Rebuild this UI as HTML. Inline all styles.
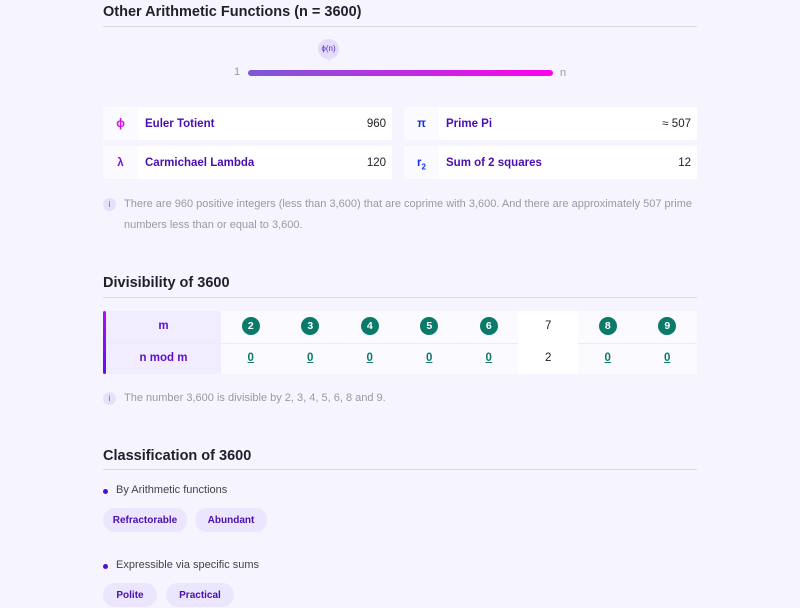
<!DOCTYPE html>
<html><head><style>
body{margin:0;width:800px;height:600px;overflow:hidden;background:#f6f4fe;font-family:"Liberation Sans",sans-serif;position:relative}
.a{position:absolute}
h2{position:absolute;left:103px;margin:0;font-size:14.5px;font-weight:bold;color:#1f1f2e}
.hr{position:absolute;left:103px;width:594px;height:1px;background:#dcd9e8}
.card{position:absolute;height:33px;background:#fff;font-size:11.5px;font-weight:bold;color:#4a0fb0}
.card .ic{position:absolute;left:0;top:0;width:35px;height:33px;background:#fbfaff;text-align:center;line-height:35px}
.card .lb{position:absolute;left:42px;top:0;line-height:35px}
.card .v{position:absolute;right:6px;top:0;line-height:35px;color:#222;font-weight:normal}
.info{position:absolute;left:103px;font-size:11px;color:#9a98a8;line-height:21px}
.info i{position:absolute;left:0;top:4px;width:13px;height:13px;border-radius:50%;background:#e6e0fb;color:#6a4ad0;font-style:normal;font-size:8px;text-align:center;line-height:13px}
.cell{position:absolute;width:59.5px;height:31px;text-align:center;line-height:31px;font-size:11.5px}
.c{display:inline-block;width:18px;height:18px;border-radius:50%;background:#0a7a6a;color:#fff;line-height:18px;font-size:10.5px;font-weight:bold;vertical-align:middle}
.u{color:#0a7a6a;text-decoration:underline;font-weight:bold}
.pill{position:absolute;height:24px;line-height:25px;border-radius:12px;background:#ebe6fd;color:#4a0fb0;font-size:10px;font-weight:bold;text-align:center}
.bul{position:absolute;left:103px;font-size:11px;color:#444}
.bul:before{content:"";position:absolute;left:0;top:5px;width:5px;height:5px;border-radius:50%;background:#5010d0}
</style></head><body>
<h2 style="top:4px">Other Arithmetic Functions (n = 3600)</h2>
<div class="hr" style="top:26px"></div>
<div class="a" style="left:318px;top:39px;width:21px;height:20px;border-radius:50%;background:#e3dcfa;font-size:8px;color:#5a2ad0;text-align:center;line-height:20px">ϕ(n)</div>
<div class="a" style="left:325px;top:56px;width:0;height:0;border-left:4px solid transparent;border-right:4px solid transparent;border-top:5px solid #e3dcfa"></div>
<div class="a" style="left:234px;top:66px;font-size:11px;color:#999">1</div>
<div class="a" style="left:248px;top:70px;width:305px;height:6px;border-radius:3px;background:linear-gradient(90deg,#7b5ad6,#ff00ee)"></div>
<div class="a" style="left:560px;top:67px;font-size:11px;color:#999">n</div>

<div class="card" style="left:103px;top:107px;width:289px"><div class="ic" style="color:#d010e0">ϕ</div><div class="lb">Euler Totient</div><div class="v">960</div></div>
<div class="card" style="left:404px;top:107px;width:293px"><div class="ic" style="color:#1a30e0">π</div><div class="lb">Prime Pi</div><div class="v">≈ 507</div></div>
<div class="card" style="left:103px;top:146px;width:289px"><div class="ic" style="color:#7a10e0">λ</div><div class="lb">Carmichael Lambda</div><div class="v">120</div></div>
<div class="card" style="left:404px;top:146px;width:293px"><div class="ic" style="color:#1a30e0">r<sub style="font-size:8px">2</sub></div><div class="lb">Sum of 2 squares</div><div class="v">12</div></div>

<div class="info" style="top:194px;width:594px"><i>i</i><div style="padding-left:21px">There are 960 positive integers (less than 3,600) that are coprime with 3,600. And there are approximately 507 prime numbers less than or equal to 3,600.</div></div>

<h2 style="top:275px">Divisibility of 3600</h2>
<div class="hr" style="top:297px"></div>
<div class="a" style="left:103px;top:311px;width:594px;height:63px;background:#fbfaff"></div>
<div class="a" style="left:103px;top:311px;width:3px;height:63px;background:linear-gradient(#b010f0,#6010f0);border-radius:2px"></div>
<div class="a" style="left:106px;top:311px;width:115px;height:63px;background:#f1edfe"></div>
<div class="a" style="left:106px;top:343px;width:591px;height:1px;background:#eeebf7"></div>
<div class="cell" style="left:106px;top:311px;width:115px;color:#6010d0;font-weight:bold">m</div>
<div class="cell" style="left:106px;top:343px;width:115px;color:#6010d0;font-weight:bold">n mod m</div>
<div class="a" style="left:518px;top:311px;width:60px;height:63px;background:#fff"></div>
<div class="cell" style="left:221px;top:311px"><span class="c">2</span></div>
<div class="cell" style="left:280.5px;top:311px"><span class="c">3</span></div>
<div class="cell" style="left:340px;top:311px"><span class="c">4</span></div>
<div class="cell" style="left:399.5px;top:311px"><span class="c">5</span></div>
<div class="cell" style="left:459px;top:311px"><span class="c">6</span></div>
<div class="cell" style="left:518.5px;top:311px;color:#222">7</div>
<div class="cell" style="left:578px;top:311px"><span class="c">8</span></div>
<div class="cell" style="left:637.5px;top:311px"><span class="c">9</span></div>
<div class="cell" style="left:221px;top:343px"><span class="u">0</span></div>
<div class="cell" style="left:280.5px;top:343px"><span class="u">0</span></div>
<div class="cell" style="left:340px;top:343px"><span class="u">0</span></div>
<div class="cell" style="left:399.5px;top:343px"><span class="u">0</span></div>
<div class="cell" style="left:459px;top:343px"><span class="u">0</span></div>
<div class="cell" style="left:518.5px;top:343px;color:#222">2</div>
<div class="cell" style="left:578px;top:343px"><span class="u">0</span></div>
<div class="cell" style="left:637.5px;top:343px"><span class="u">0</span></div>

<div class="info" style="top:388px;width:594px"><i>i</i><div style="padding-left:21px">The number 3,600 is divisible by 2, 3, 4, 5, 6, 8 and 9.</div></div>

<h2 style="top:448px">Classification of 3600</h2>
<div class="hr" style="top:469px"></div>
<div class="bul" style="top:484px;padding-left:13px">By Arithmetic functions</div>
<div class="pill" style="left:103px;top:508px;width:84px">Refractorable</div>
<div class="pill" style="left:195px;top:508px;width:72px">Abundant</div>
<div class="bul" style="top:559px;padding-left:13px">Expressible via specific sums</div>
<div class="pill" style="left:103px;top:583px;width:54px">Polite</div>
<div class="pill" style="left:166px;top:583px;width:68px">Practical</div>
</body></html>
